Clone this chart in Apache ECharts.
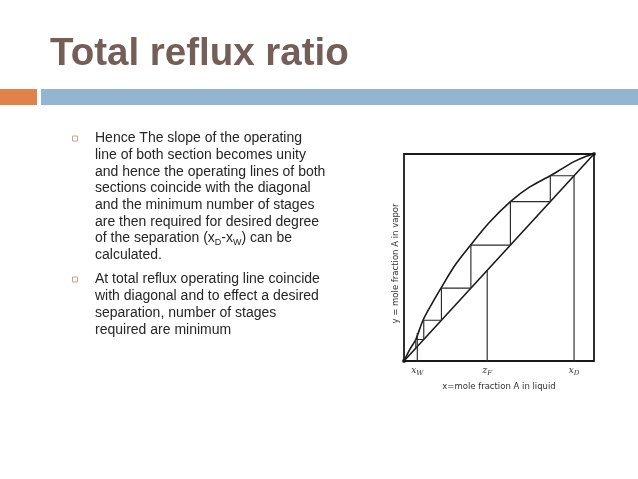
<!DOCTYPE html>
<html>
<head>
<meta charset="utf-8">
<script src="https://cdn.jsdelivr.net/npm/echarts@6/dist/echarts.min.js"></script>
<style>
html,body{margin:0;padding:0;background:#fff;}
#c{width:638px;height:479px;}
</style>
</head>
<body>
<div id="c"></div>
<script>
// ---- data ----
var titleText = 'Total reflux ratio';
var bullet1 = [
  'Hence The slope of the operating',
  'line of both section becomes unity',
  'and hence the operating lines of both',
  'sections coincide with the diagonal',
  'and the minimum number of stages',
  'are then required for desired degree',
  'of the separation (x{s|D}-x{s|W}) can be',
  'calculated.'
];
var bullet2 = [
  'At total reflux operating line coincide',
  'with diagonal and to effect a desired',
  'separation, number of stages',
  'required are minimum'
];
// equilibrium curve (x, y) points
var eqX = [0, 0.03, 0.062, 0.10, 0.15, 0.197, 0.27, 0.352, 0.45, 0.56, 0.66, 0.77, 0.83, 0.895, 0.95, 1];
var eqY = [0, 0.055, 0.104, 0.197, 0.282, 0.356, 0.465, 0.562, 0.67, 0.77, 0.84, 0.895, 0.928, 0.963, 0.986, 1];
// stage corner x values on the diagonal (from xD downward)
var stageX = [0.895, 0.77, 0.56, 0.352, 0.197, 0.104, 0.062];
// key compositions
var xW = 0.07, zF = 0.438, xD = 0.895;
var xWTop = 0.135;
var tickValues = [xW, zF, xD];
var tickLabels = ['x{s|W}', 'z{s|F}', 'x{s|D}'];

// ---- build series data ----
var eqData = eqX.map(function (x, i) { return [x, eqY[i]]; });
var stairData = [];
for (var i = 0; i < stageX.length; i++) {
  stairData.push([stageX[i], stageX[i]]);
  if (i + 1 < stageX.length) stairData.push([stageX[i + 1], stageX[i]]);
}
var vLines = [
  [[xW, 0], [xW, xWTop]],
  [[zF, 0], [zF, zF]],
  [[xD, 0], [xD, xD]]
];

var lineStyle = { color: '#1a1a1a', width: 1.6 };
var thinStyle = { color: '#2a2a2a', width: 1.15 };
var txtColor = '#262626';
var font14 = '14px "Liberation Sans", Arial, sans-serif';

var graphics = [];
graphics.push({
  type: 'text', x: 50, y: 34.5,
  style: { text: titleText, font: 'bold 38.5px "Liberation Sans", Arial, sans-serif', fill: '#735f57' }
});
graphics.push({ type: 'rect', shape: { x: 0, y: 89, width: 37, height: 16 }, style: { fill: '#e0834a' } });
graphics.push({ type: 'rect', shape: { x: 41, y: 89, width: 597, height: 16 }, style: { fill: '#93b5d2' } });

function addPara(lines, y0, step) {
  graphics.push({
    type: 'rect', shape: { x: 72.5, y: y0 - 2.5, width: 5, height: 5 },
    style: { fill: '#fff', stroke: '#c9a48c', lineWidth: 1 }
  });
  lines.forEach(function (t, i) {
    graphics.push({
      type: 'text', x: 95, y: y0 + i * step,
      style: {
        text: t, font: font14, fill: txtColor, verticalAlign: 'middle',
        rich: { s: { fontSize: 9, fill: txtColor, fontFamily: '"Liberation Sans", Arial, sans-serif', padding: [8, 0, 0, 0] } }
      }
    });
  });
}
addPara(bullet1, 138.5, 16.65);
addPara(bullet2, 279.5, 16.9);

var series = [
  { type: 'line', data: [[0, 0], [1, 1]], symbol: 'none', lineStyle: lineStyle, silent: true },
  { type: 'line', data: eqData, smooth: 0.3, symbol: 'none', lineStyle: lineStyle, silent: true },
  { type: 'line', data: stairData, symbol: 'none', lineStyle: thinStyle, silent: true },
  { type: 'scatter', data: [[1, 1], [0, 0]], symbolSize: 4, itemStyle: { color: '#111' }, silent: true }
];
vLines.forEach(function (d) {
  series.push({ type: 'line', data: d, symbol: 'none', lineStyle: thinStyle, silent: true });
});

var chart = echarts.init(document.getElementById('c'), null, { renderer: 'canvas' });
chart.setOption({
  animation: false,
  backgroundColor: '#ffffff',
  grid: { left: 404, top: 154, width: 190, height: 207, show: true, borderColor: '#1a1a1a', borderWidth: 1.8, containLabel: false },
  xAxis: {
    type: 'value', min: 0, max: 1,
    axisLine: { show: false }, axisTick: { show: false }, splitLine: { show: false },
    axisLabel: {
      customValues: tickValues, margin: 4, color: '#333',
      fontSize: 9, fontStyle: 'italic', fontFamily: '"DejaVu Serif", serif',
      formatter: function (v) {
        for (var k = 0; k < tickValues.length; k++) if (Math.abs(v - tickValues[k]) < 1e-6) return tickLabels[k];
        return '';
      },
      rich: { s: { fontSize: 7, fontStyle: 'italic', color: '#333', padding: [5, 0, 0, 0] } }
    },
    name: 'x=mole fraction A in liquid', nameLocation: 'middle', nameGap: 21,
    nameTextStyle: { fontSize: 8.5, color: '#333', fontFamily: '"DejaVu Sans", sans-serif' }
  },
  yAxis: {
    type: 'value', min: 0, max: 1,
    axisLine: { show: false }, axisTick: { show: false }, splitLine: { show: false },
    axisLabel: { show: false },
    name: 'y = mole fraction A in vapor', nameLocation: 'middle', nameGap: 4, nameRotate: 90,
    nameTextStyle: { fontSize: 8.5, color: '#333', fontFamily: '"DejaVu Sans", sans-serif', padding: [0, 12, 0, 0] }
  },
  graphic: graphics,
  series: series
});
</script>
</body>
</html>
